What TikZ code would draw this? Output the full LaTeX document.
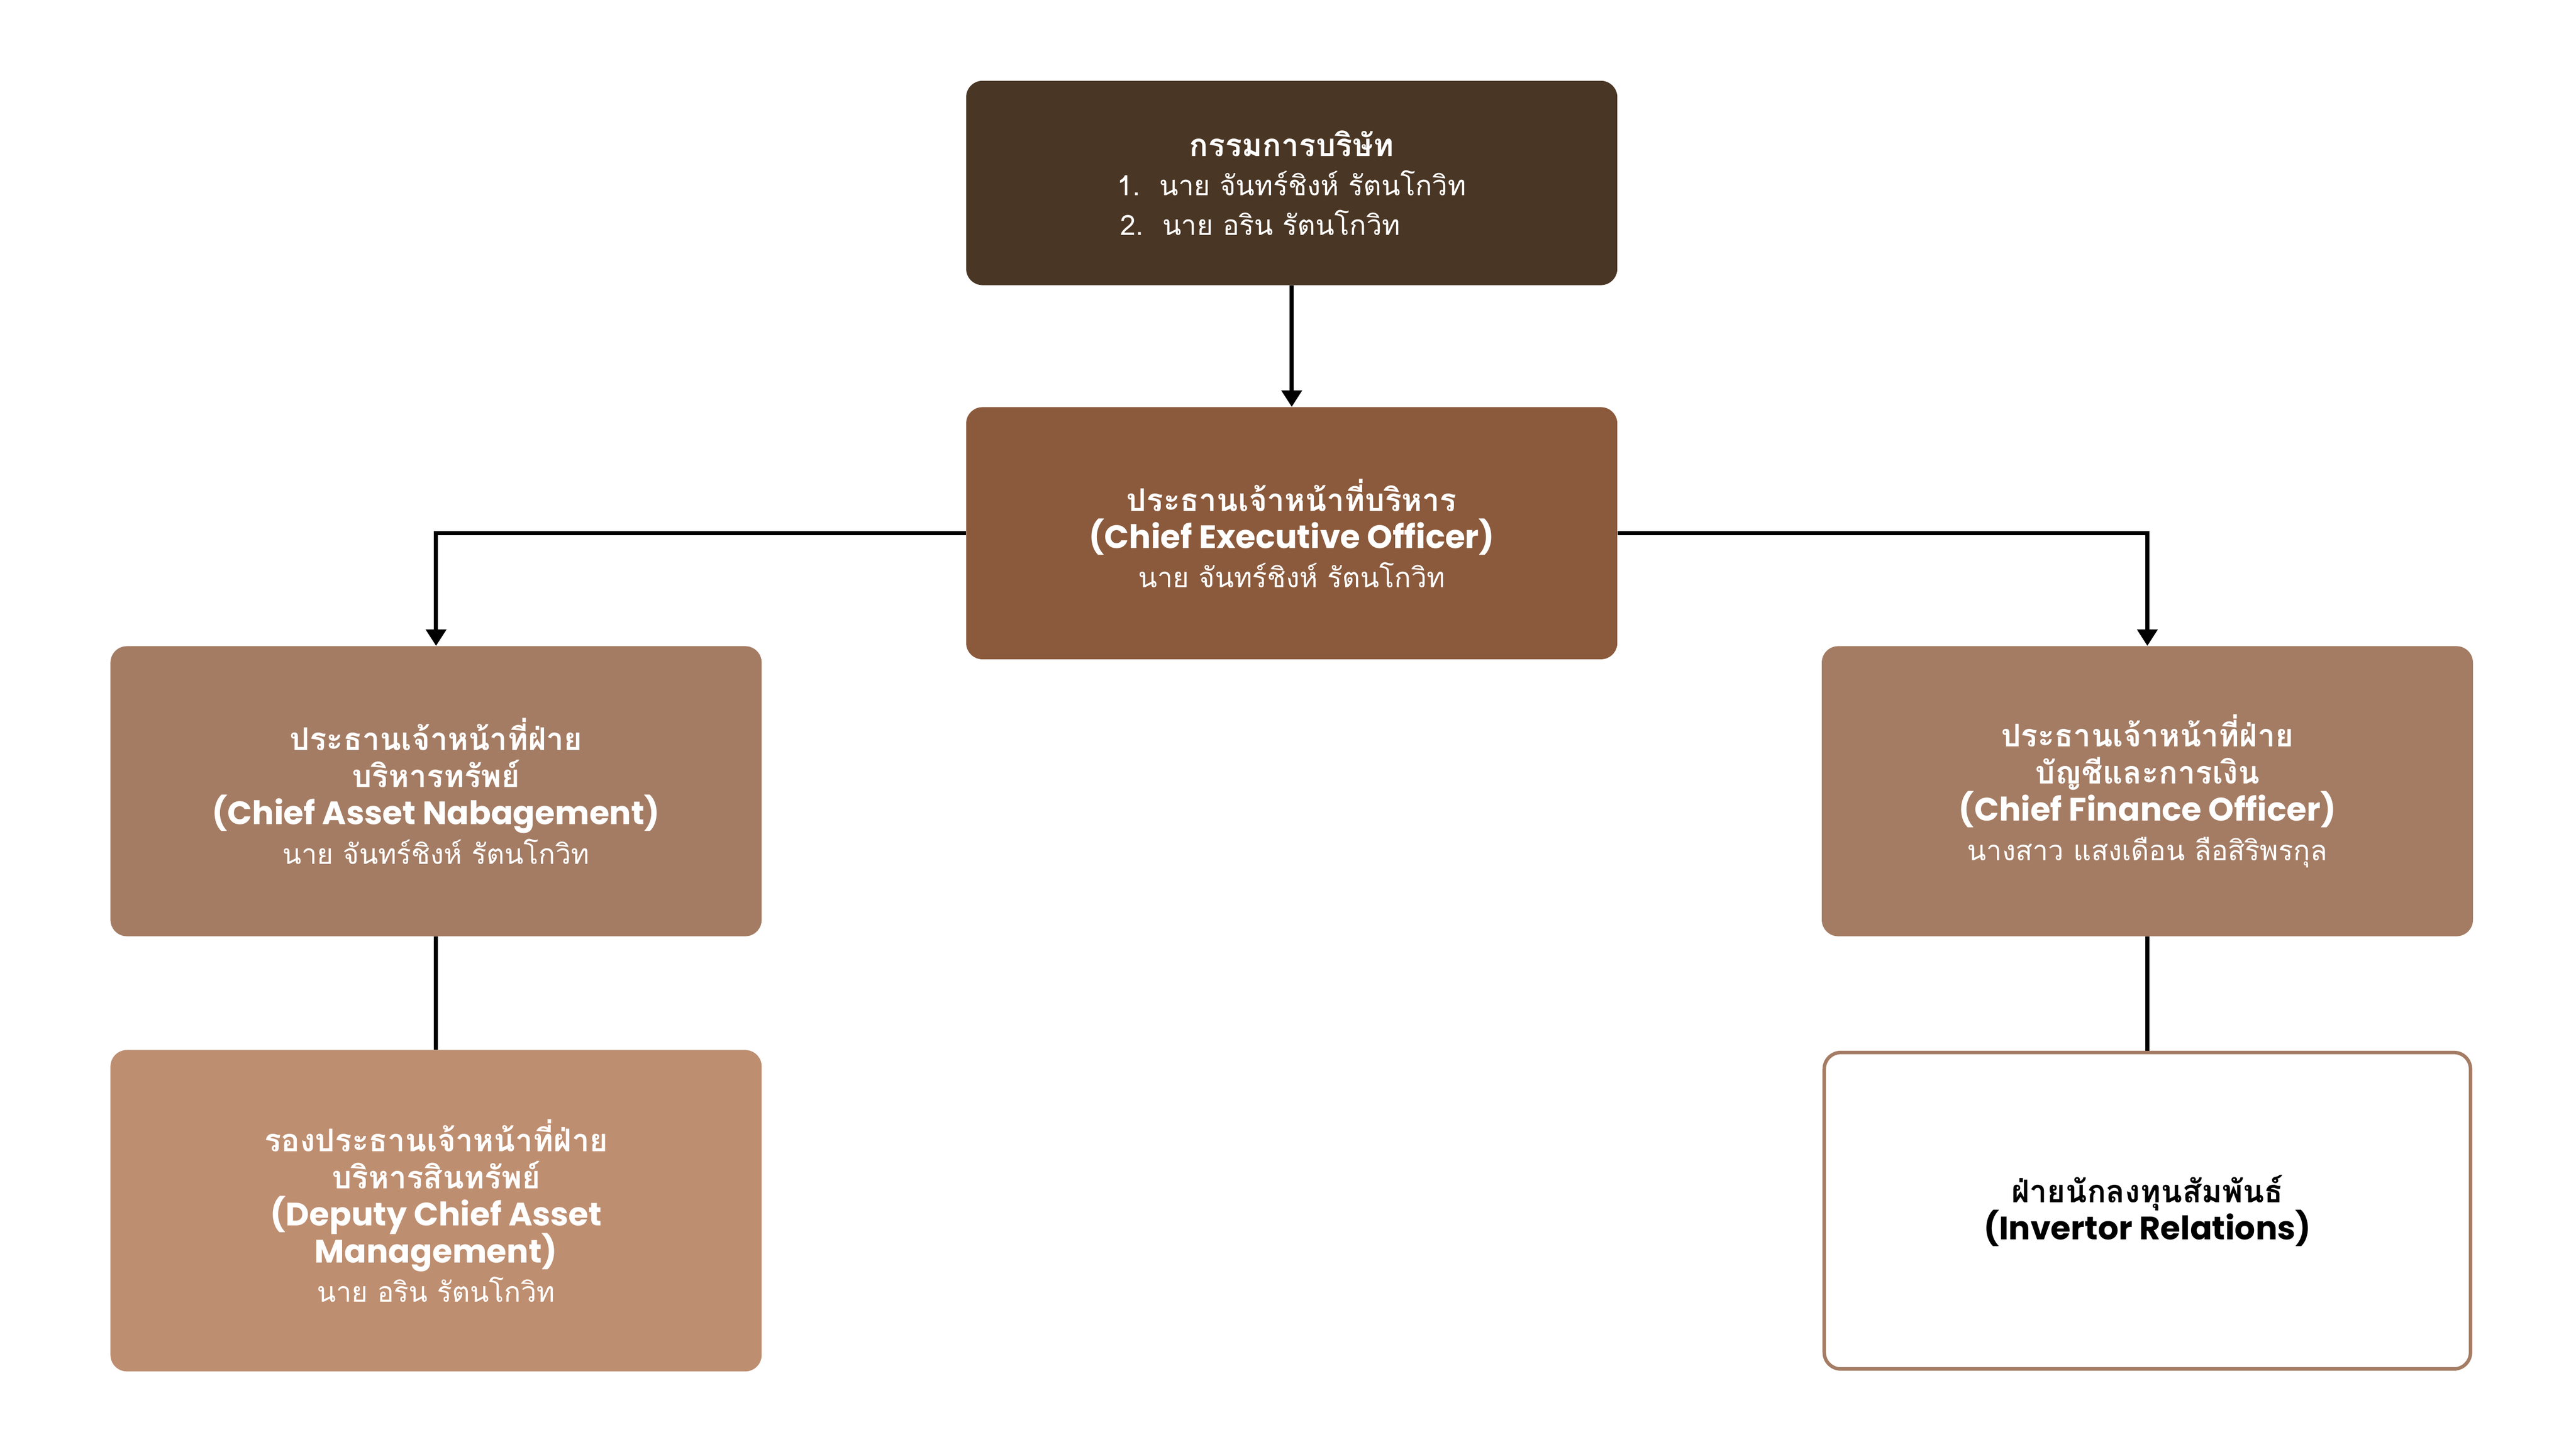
\documentclass[tikz,border=0pt]{standalone}
\usepackage{fontspec}
\setmainfont{Poppins}
\newfontfamily\thai[Script=Thai]{Loma}
\usetikzlibrary{arrows.meta}
\definecolor{cA}{HTML}{4A3624}
\definecolor{cB}{HTML}{8B5A3C}
\definecolor{cC}{HTML}{A47C64}
\definecolor{cD}{HTML}{BE8E70}
\begin{document}
\begin{tikzpicture}[x=0.05cm,y=-0.05cm,
  box/.style={rounded corners=0.5cm,minimum width=19.75cm,inner sep=0pt,align=center,text=white,font=\fontsize{24}{36}\selectfont},
  th/.style={},
  conn/.style={line width=3.5pt,black},
  arr/.style={conn,-{Triangle[length=0.5cm,width=0.6cm]}}]
\useasboundingbox[fill=white] (0,0) rectangle (1562.5,879);
\node[box,fill=cA,minimum height=6.2cm] (top) at (783.5,111) {{\thai\bfseries\fontsize{27}{36}\selectfont กรรมการบริษัท}\\[-2pt]
 {\thai 1.\ \ นาย จันทร์ชิงห์ รัตนโกวิท}\\[-2pt]
 \hspace*{-1.9cm}{\thai 2.\ \ นาย อริน รัตนโกวิท}};
\node[box,fill=cB,minimum height=7.65cm] (ceo) at (783.5,323.5) {{\thai\bfseries\fontsize{27}{36}\selectfont ประธานเจ้าหน้าที่บริหาร}\\[-4pt]
 {\bfseries\fontsize{28}{36}\selectfont (Chief Executive Officer)}\\[-2pt]
 {\thai นาย จันทร์ชิงห์ รัตนโกวิท}};
\node[box,fill=cC,minimum height=8.8cm] (cam) at (264.5,480) {{\thai\bfseries\fontsize{27}{36}\selectfont ประธานเจ้าหน้าที่ฝ่าย}\\[-4pt]
 {\thai\bfseries\fontsize{27}{36}\selectfont บริหารทรัพย์}\\[-4pt]
 {\bfseries\fontsize{28}{36}\selectfont (Chief Asset Nabagement)}\\[-2pt]
 {\thai นาย จันทร์ชิงห์ รัตนโกวิท}};
\node[box,fill=cC,minimum height=8.8cm] (cfo) at (1302.5,480) {{\thai\bfseries\fontsize{27}{36}\selectfont ประธานเจ้าหน้าที่ฝ่าย}\\[-4pt]
 {\thai\bfseries\fontsize{27}{36}\selectfont บัญชีและการเงิน}\\[-4pt]
 {\bfseries\fontsize{28}{36}\selectfont (Chief Finance Officer)}\\[-2pt]
 {\thai นางสาว แสงเดือน ลือสิริพรกุล}};
\node[box,fill=cD,minimum height=9.75cm] (dep) at (264.5,734.5) {{\thai\bfseries\fontsize{27}{34}\selectfont รองประธานเจ้าหน้าที่ฝ่าย}\\[-4pt]
 {\thai\bfseries\fontsize{27}{34}\selectfont บริหารสินทรัพย์}\\[-4pt]
 {\bfseries\fontsize{28}{34}\selectfont (Deputy Chief Asset}\\[-4pt]
 {\bfseries\fontsize{28}{34}\selectfont Management)}\\[-2pt]
 {\thai นาย อริน รัตนโกวิท}};
\node[box,fill=white,draw=cC,line width=3pt,text=black,minimum height=9.6cm,minimum width=19.6cm] (ir) at (1302.5,734.5) {{\thai\bfseries\fontsize{27}{36}\selectfont ฝ่ายนักลงทุนสัมพันธ์}\\[-4pt]
 {\bfseries\fontsize{28}{36}\selectfont (Invertor Relations)}};
\draw[arr] (top.south) -- (ceo.north);
\draw[arr] (ceo.west) -| (cam.north);
\draw[arr] (ceo.east) -| (cfo.north);
\draw[conn] (cam.south) -- (dep.north);
\draw[conn] (cfo.south) -- (ir.north);
\end{tikzpicture}
\end{document}
